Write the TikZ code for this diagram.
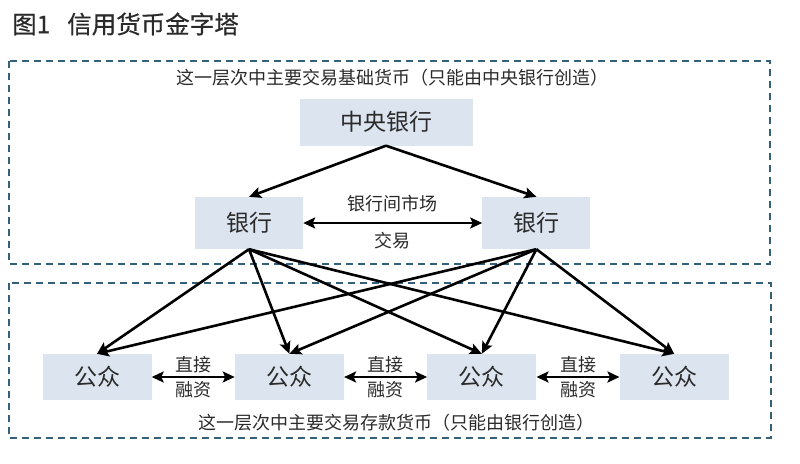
\documentclass[tikz,border=0pt]{standalone}
\usepackage{fontspec}
\setmainfont{Noto Sans CJK SC}
\newfontfamily\titlefont{Noto Sans CJK SC}[FakeBold=0.6]
\usepackage{tikz}
\usetikzlibrary{positioning, arrows.meta, backgrounds}

\definecolor{boxfill}{HTML}{DCE4EF}
\definecolor{framecol}{HTML}{34607C}
\definecolor{textcol}{HTML}{2A2A2A}

\begin{document}
\begin{tikzpicture}[
    x=1pt, y=-1pt,
    block/.style={fill=boxfill, inner sep=0pt, align=center, text=textcol, font=\fontsize{23}{26}\selectfont},
    cbank/.style={block, minimum width=173pt, minimum height=47pt},
    bank/.style={block, minimum width=108pt, minimum height=52pt},
    public/.style={block, minimum width=109pt, minimum height=46pt},
    lbl/.style={text=textcol, inner sep=0pt, font=\fontsize{18}{20}\selectfont},
    frame/.style={draw=framecol, line width=1.4pt, dash pattern=on 7pt off 5pt},
    arr/.style={-{Stealth[length=12pt, width=11pt, inset=2.5pt]}, line width=2.6pt},
    darr/.style={{Stealth[length=12pt, width=11pt, inset=2.5pt]}-{Stealth[length=12pt, width=11pt, inset=2.5pt]}, line width=2.6pt}
]
\useasboundingbox (0,0) rectangle (800,463);

% Title
\node[anchor=west, inner sep=0pt, text=textcol, font=\fontsize{24.5}{28}\titlefont] (title) at (12,24) {图1\hspace{17pt}信用货币金字塔};

% Central bank
\node[cbank] (cb) at (386,122) {中央银行};

% Banks
\node[bank] (bankA) at (249,223) {银行};
\node[bank, right=179pt of bankA] (bankB) {银行};

% Public
\node[public] (pubA) at (97,377) {公众};
\node[public, right=83pt of pubA] (pubB) {公众};
\node[public, right=83pt of pubB] (pubC) {公众};
\node[public, right=83pt of pubC] (pubD) {公众};

% Layer captions
\node[lbl] (topcap) at (392,78) {这一层次中主要交易基础货币（只能由中央银行创造）};
\node[lbl] (botcap) at (396,423) {这一层次中主要交易存款货币（只能由银行创造）};

% Arrows
\draw[arr] (cb.south) -- (bankA.north);
\draw[arr] (cb.south) -- (bankB.north);
\draw[darr] (bankA.east) -- node[lbl, above=10pt] {银行间市场} node[lbl, below=8pt] {交易} (bankB.west);

\foreach \b in {bankA, bankB}
  \foreach \p in {pubA, pubB, pubC, pubD}
    \draw[arr] (\b.south) -- (\p.north);

\draw[darr] (pubA.east) -- node[lbl, above=3pt] {直接} node[lbl, below=3pt] {融资} (pubB.west);
\draw[darr] (pubB.east) -- node[lbl, above=3pt] {直接} node[lbl, below=3pt] {融资} (pubC.west);
\draw[darr] (pubC.east) -- node[lbl, above=3pt] {直接} node[lbl, below=3pt] {融资} (pubD.west);

% Dashed layers
\begin{scope}[on background layer]
\draw[frame] (9,61) rectangle (770,264);
\draw[frame] (9,283) rectangle (771,438);
\end{scope}

\end{tikzpicture}
\end{document}
